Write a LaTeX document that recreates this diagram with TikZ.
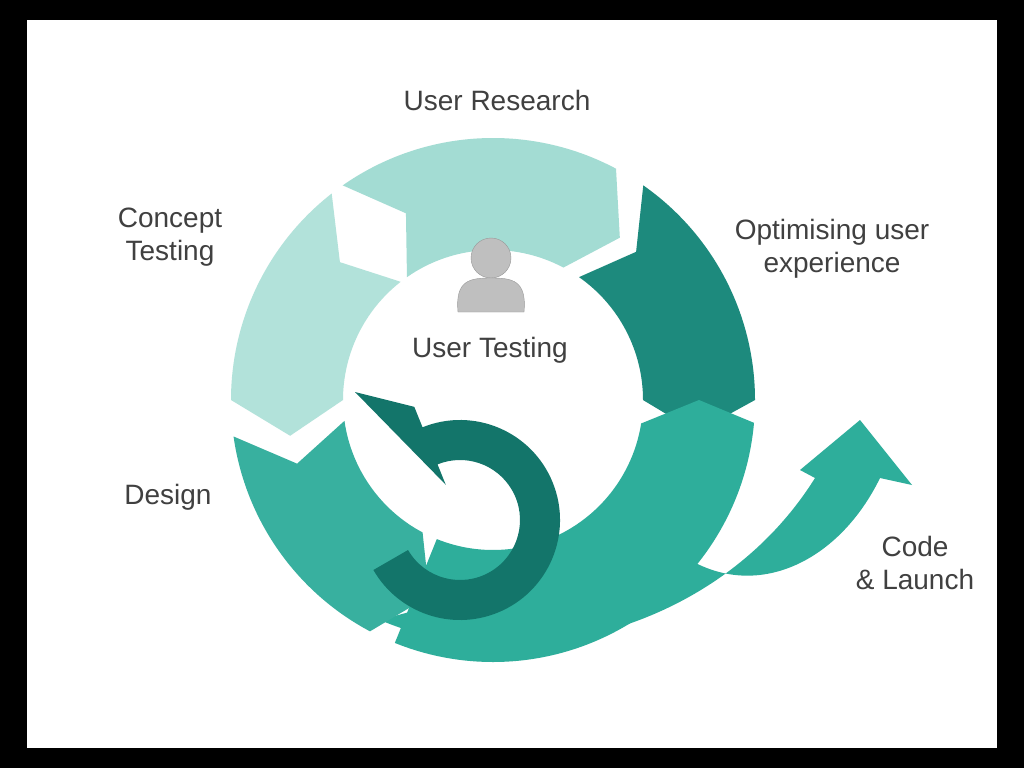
\documentclass[tikz,border=0pt]{standalone}
\usepackage{fontspec}
\setmainfont{Liberation Sans}
\begin{document}
\begin{tikzpicture}[x=1pt,y=-1pt]
\tikzset{lbl/.style={text=black!75,font=\fontsize{28}{33}\selectfont,align=center}}
\definecolor{cUR}{HTML}{A3DCD3}
\definecolor{cOP}{HTML}{1D8A7D}
\definecolor{cCT}{HTML}{B2E2DA}
\definecolor{cDS}{HTML}{38B09F}
\definecolor{cSW}{HTML}{2EAE9B}
\definecolor{cIN}{HTML}{13756A}
\useasboundingbox (0,0) rectangle (1024,768);
\fill[black] (0,0) rectangle (1024,768);
\fill[white] (27,20) rectangle (997,748);
\def\Ro{262}\def\Ri{150}\def\Rm{206}
\newcommand\seg[4]{\fill[#1] (#2:\Ro) arc[start angle=#2,end angle=#3,radius=\Ro] -- ({#3+#4}:\Rm) -- (#3:\Ri) arc[start angle=#3,end angle=#2,radius=\Ri] -- ({#2+#4}:\Rm) -- cycle;}
% swoosh
\fill[cSW] (380,620) .. controls (520,680) and (720,630) .. (815,478) -- (800,470) -- (860,420) -- (912,485) -- (880,478) .. controls (840,560) and (760,600) .. (690,560) -- (600,560) -- cycle;
\begin{scope}[shift={(493,400)}]
\seg{cUR}{-125}{-62}{10}
\seg{cOP}{-55}{0}{9}
\seg{cCT}{-128}{-180}{-10}
\seg{cDS}{-188}{-242}{-10}
\fill[cSW] (5:\Ro) arc[start angle=5,end angle=112,radius=\Ro] -- (112:\Ri) arc[start angle=112,end angle=9,radius=\Ri] -- (0:\Rm) -- cycle;
\end{scope}
% inner loop
\begin{scope}[shift={(460,520)}]
\fill[cIN] (-112:100) arc[start angle=-112,end angle=150,radius=100] -- (150:60) arc[start angle=150,end angle=-112,radius=60] -- (-112:38) -- (-105,-128) -- (-112:122) -- cycle;
\end{scope}
% person icon
\node[circle,fill=black!25,draw=black!40,minimum size=40pt,inner sep=0pt] (head) at (491,258) {};
\fill[black!25,draw=black!40] (458,312) .. controls (455,280) and (470,278) .. (491,278) .. controls (512,278) and (527,280) .. (524,312) -- cycle;
\node[lbl] (ur) at (497,100) {User Research};
\node[lbl] (ct) at (170,237) {Concept\\Testing};
\node[lbl] (op) at (832,249) {Optimising user\\experience};
\node[lbl] (ut) at (490,350) {User Testing};
\node[lbl] (ds) at (168,497) {Design};
\node[lbl] (cl) at (915,563) {Code\\\& Launch};
\end{tikzpicture}
\end{document}
